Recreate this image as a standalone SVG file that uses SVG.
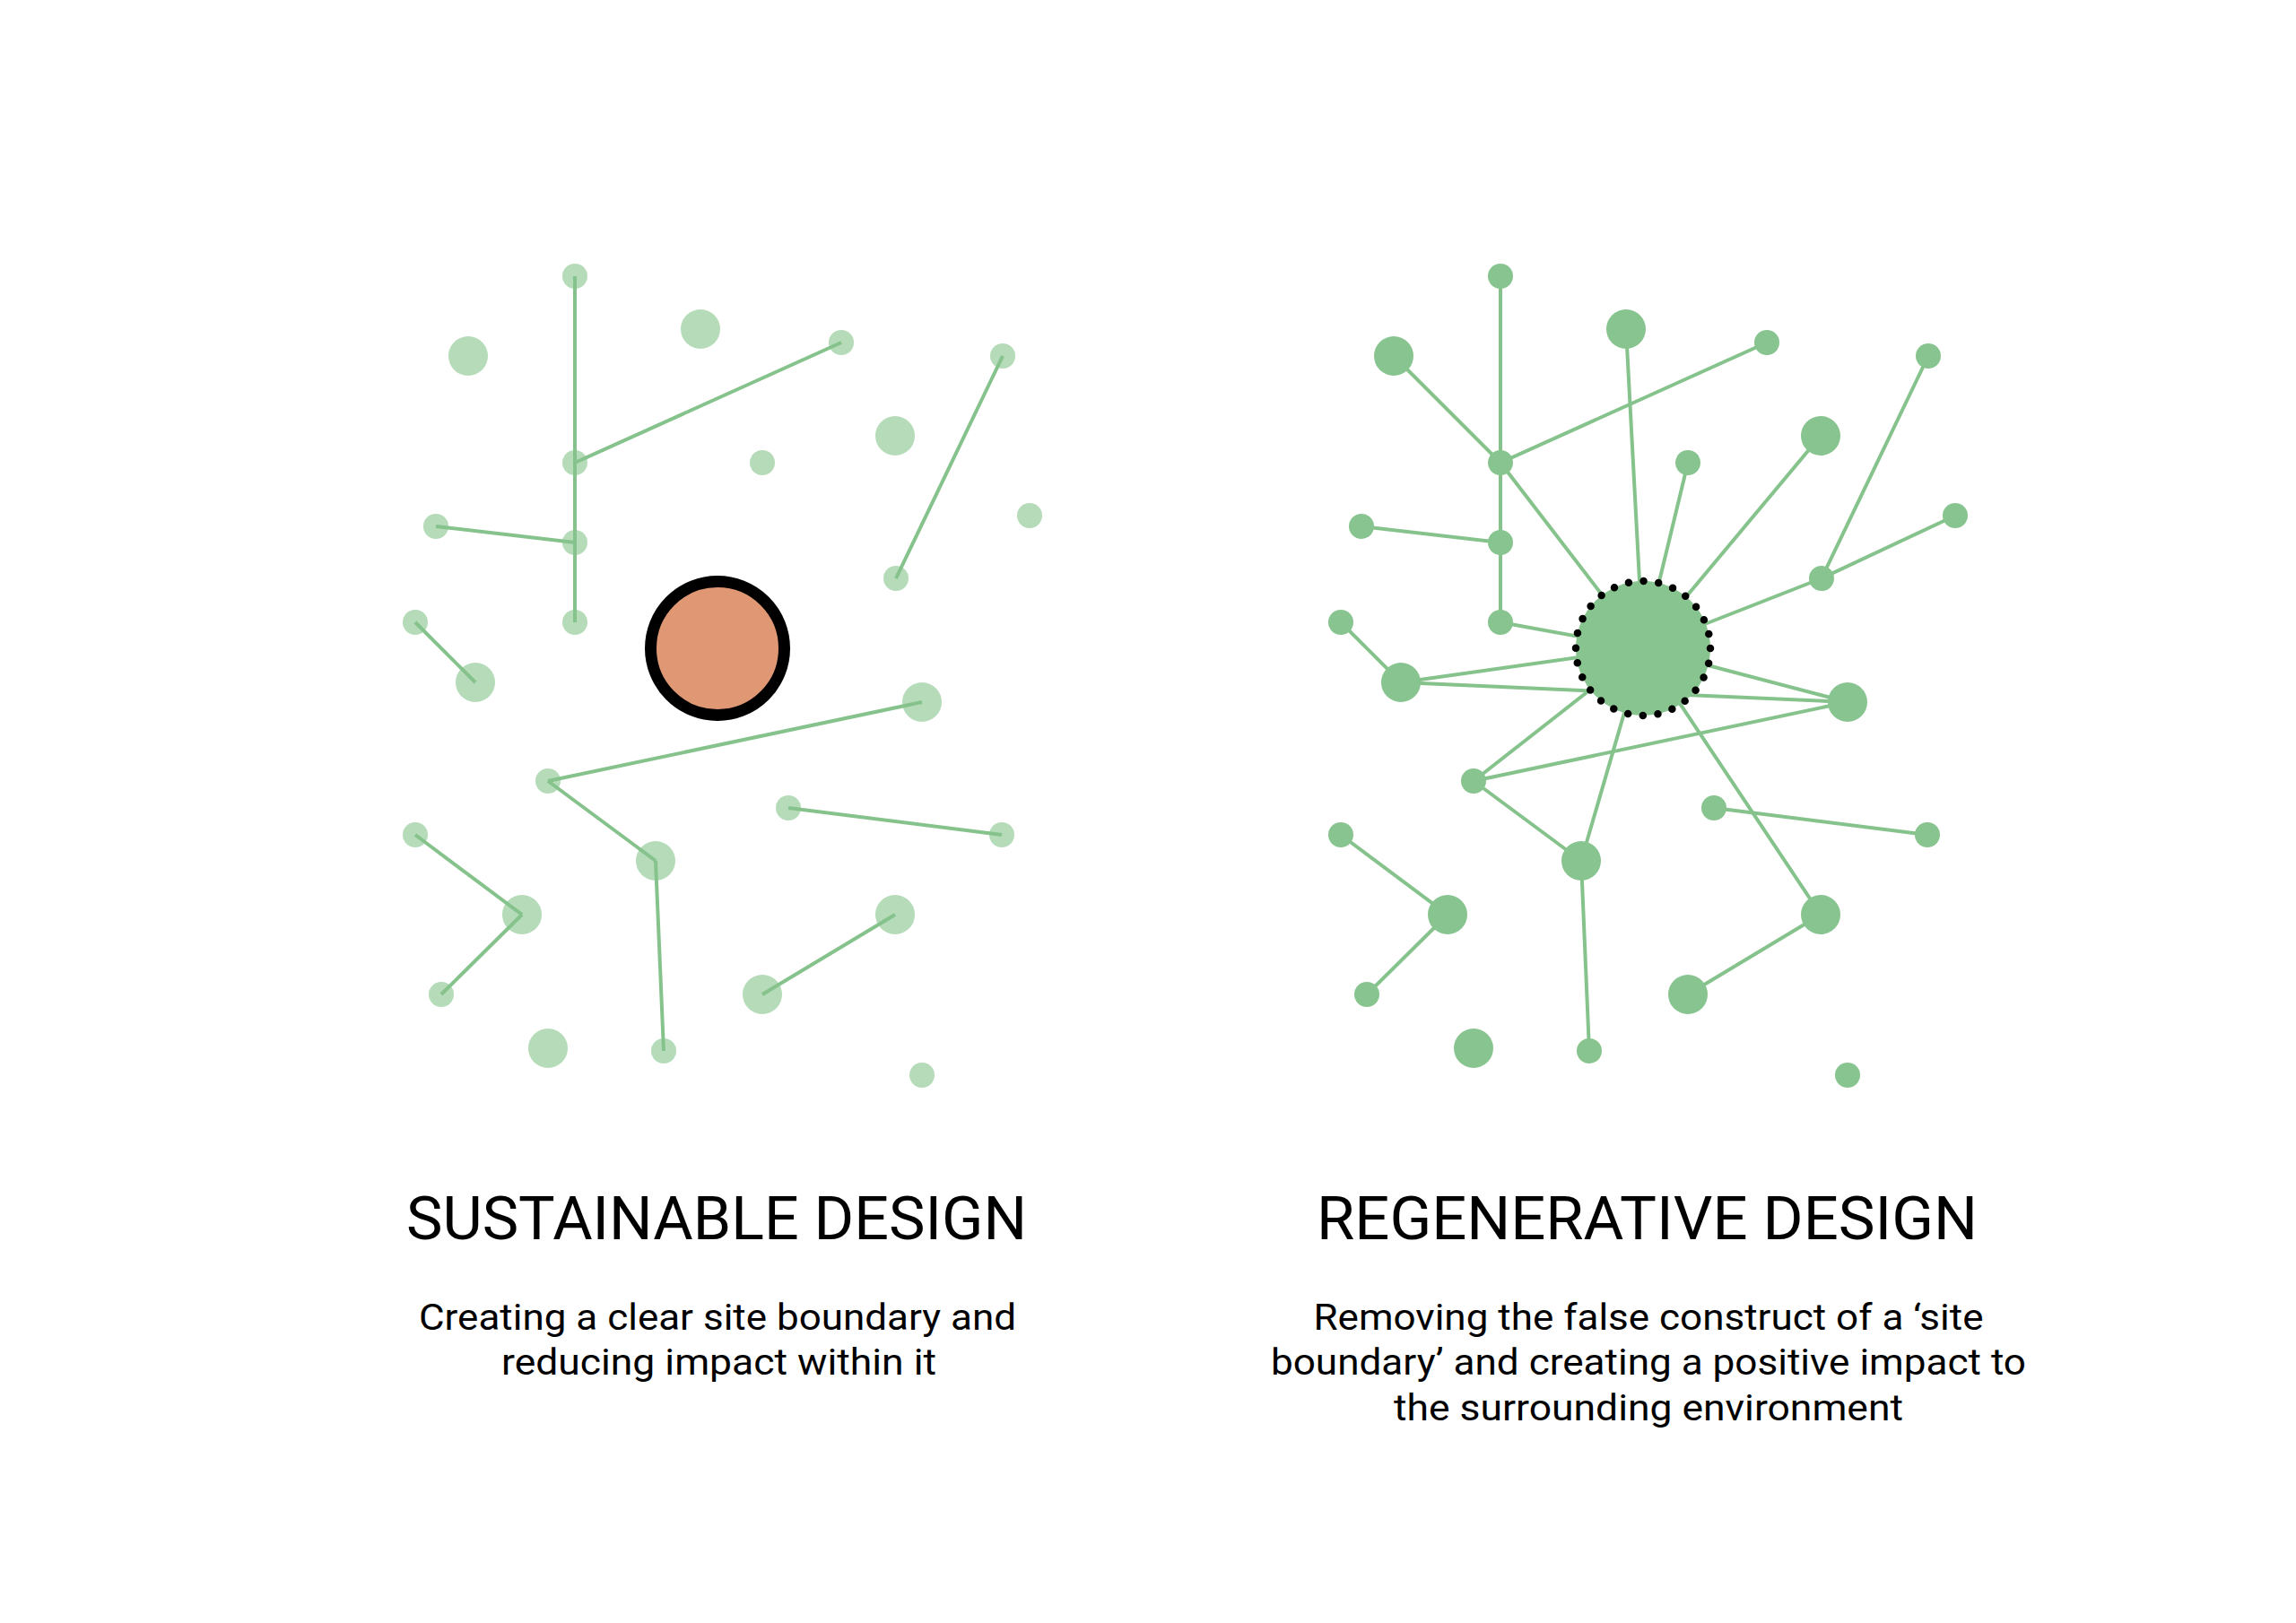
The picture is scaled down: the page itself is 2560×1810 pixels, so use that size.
<svg xmlns="http://www.w3.org/2000/svg" width="2560" height="1810" viewBox="0 0 2560 1810">
<style>
.lt{fill:#b5dbb9}
.dk{fill:#88c48f}
.edge{stroke:#86c38c;stroke-width:4;fill:none}
.title{font-family:Roboto,"Liberation Sans",Arial,sans-serif;font-size:67px;fill:#000;text-anchor:middle}
.body{font-family:Roboto,"Liberation Sans",Arial,sans-serif;font-size:41px;fill:#000;text-anchor:middle}
</style>
<rect width="2560" height="1810" fill="#fff"/>

<!-- LEFT PANEL: SUSTAINABLE DESIGN -->
<g id="left-nodes">
<circle id="l1" class="lt" cx="641" cy="308" r="14"/>
<circle id="l2" class="lt" cx="522" cy="397" r="22"/>
<circle id="l3" class="lt" cx="781" cy="367" r="22"/>
<circle id="l4" class="lt" cx="938" cy="382" r="14"/>
<circle id="l5" class="lt" cx="1118" cy="397" r="14"/>
<circle id="l6" class="lt" cx="641" cy="516" r="14"/>
<circle id="l7" class="lt" cx="850" cy="516" r="14"/>
<circle id="l8" class="lt" cx="998" cy="486" r="22"/>
<circle id="l9" class="lt" cx="486" cy="587" r="14"/>
<circle id="l10" class="lt" cx="641" cy="605" r="14"/>
<circle id="l11" class="lt" cx="1148" cy="575" r="14"/>
<circle id="l12" class="lt" cx="999" cy="645" r="14"/>
<circle id="l13" class="lt" cx="463" cy="694" r="14"/>
<circle id="l14" class="lt" cx="641" cy="694" r="14"/>
<circle id="l15" class="lt" cx="530" cy="761" r="22"/>
<circle id="l16" class="lt" cx="1028" cy="783" r="22"/>
<circle id="l17" class="lt" cx="611" cy="871" r="14"/>
<circle id="l18" class="lt" cx="879" cy="901" r="14"/>
<circle id="l19" class="lt" cx="1117" cy="931" r="14"/>
<circle id="l20" class="lt" cx="463" cy="931" r="14"/>
<circle id="l21" class="lt" cx="731" cy="960" r="22"/>
<circle id="l22" class="lt" cx="582" cy="1020" r="22"/>
<circle id="l23" class="lt" cx="998" cy="1020" r="22"/>
<circle id="l24" class="lt" cx="492" cy="1109" r="14"/>
<circle id="l25" class="lt" cx="850" cy="1109" r="22"/>
<circle id="l26" class="lt" cx="611" cy="1169" r="22"/>
<circle id="l27" class="lt" cx="740" cy="1172" r="14"/>
<circle id="l28" class="lt" cx="1028" cy="1199" r="14"/>
</g>
<g id="left-connectors" class="edge">
<line x1="641" y1="308" x2="641" y2="694"/>
<line x1="641" y1="516" x2="938" y2="382"/>
<line x1="486" y1="587" x2="641" y2="605"/>
<line x1="1118" y1="397" x2="999" y2="645"/>
<line x1="463" y1="694" x2="530" y2="761"/>
<line x1="611" y1="871" x2="1028" y2="783"/>
<line x1="611" y1="871" x2="731" y2="960"/>
<line x1="731" y1="960" x2="740" y2="1172"/>
<line x1="879" y1="901" x2="1117" y2="931"/>
<line x1="463" y1="931" x2="582" y2="1020"/>
<line x1="582" y1="1020" x2="492" y2="1109"/>
<line x1="998" y1="1020" x2="850" y2="1109"/>
</g>
<g id="site">
<circle cx="800" cy="723" r="74.5" fill="#e09874" stroke="#000" stroke-width="13"/>
</g>

<!-- RIGHT PANEL: REGENERATIVE DESIGN -->
<g id="right-connectors" class="edge">
<line x1="1673" y1="308" x2="1673" y2="694"/>
<line x1="1554" y1="397" x2="1673" y2="516"/>
<line x1="1673" y1="516" x2="1832" y2="723"/>
<line x1="1673" y1="516" x2="1970" y2="382"/>
<line x1="1518" y1="587" x2="1673" y2="605"/>
<line x1="1813" y1="367" x2="1832" y2="723"/>
<line x1="1882" y1="516" x2="1832" y2="723"/>
<line x1="2030" y1="486" x2="1832" y2="723"/>
<line x1="2150" y1="397" x2="2031" y2="645"/>
<line x1="2180" y1="575" x2="2031" y2="645"/>
<line x1="2031" y1="645" x2="1832" y2="723"/>
<line x1="1495" y1="694" x2="1562" y2="761"/>
<line x1="1673" y1="694" x2="1832" y2="723"/>
<line x1="1562" y1="761" x2="1832" y2="723"/>
<line x1="1562" y1="761" x2="2060" y2="783"/>
<line x1="2060" y1="783" x2="1832" y2="723"/>
<line x1="2060" y1="783" x2="1643" y2="871"/>
<line x1="1643" y1="871" x2="1832" y2="723"/>
<line x1="1643" y1="871" x2="1763" y2="960"/>
<line x1="1763" y1="960" x2="1832" y2="723"/>
<line x1="1763" y1="960" x2="1772" y2="1172"/>
<line x1="1911" y1="901" x2="2149" y2="931"/>
<line x1="1832" y1="723" x2="2030" y2="1020"/>
<line x1="2030" y1="1020" x2="1882" y2="1109"/>
<line x1="1495" y1="931" x2="1614" y2="1020"/>
<line x1="1614" y1="1020" x2="1524" y2="1109"/>
</g>
<g id="right-nodes">
<circle id="r1" class="dk" cx="1673" cy="308" r="14"/>
<circle id="r2" class="dk" cx="1554" cy="397" r="22"/>
<circle id="r3" class="dk" cx="1813" cy="367" r="22"/>
<circle id="r4" class="dk" cx="1970" cy="382" r="14"/>
<circle id="r5" class="dk" cx="2150" cy="397" r="14"/>
<circle id="r6" class="dk" cx="1673" cy="516" r="14"/>
<circle id="r7" class="dk" cx="1882" cy="516" r="14"/>
<circle id="r8" class="dk" cx="2030" cy="486" r="22"/>
<circle id="r9" class="dk" cx="1518" cy="587" r="14"/>
<circle id="r10" class="dk" cx="1673" cy="605" r="14"/>
<circle id="r11" class="dk" cx="2180" cy="575" r="14"/>
<circle id="r12" class="dk" cx="2031" cy="645" r="14"/>
<circle id="r13" class="dk" cx="1495" cy="694" r="14"/>
<circle id="r14" class="dk" cx="1673" cy="694" r="14"/>
<circle id="r15" class="dk" cx="1562" cy="761" r="22"/>
<circle id="r16" class="dk" cx="2060" cy="783" r="22"/>
<circle id="r17" class="dk" cx="1643" cy="871" r="14"/>
<circle id="r18" class="dk" cx="1911" cy="901" r="14"/>
<circle id="r19" class="dk" cx="2149" cy="931" r="14"/>
<circle id="r20" class="dk" cx="1495" cy="931" r="14"/>
<circle id="r21" class="dk" cx="1763" cy="960" r="22"/>
<circle id="r22" class="dk" cx="1614" cy="1020" r="22"/>
<circle id="r23" class="dk" cx="2030" cy="1020" r="22"/>
<circle id="r24" class="dk" cx="1524" cy="1109" r="14"/>
<circle id="r25" class="dk" cx="1882" cy="1109" r="22"/>
<circle id="r26" class="dk" cx="1643" cy="1169" r="22"/>
<circle id="r27" class="dk" cx="1772" cy="1172" r="14"/>
<circle id="r28" class="dk" cx="2060" cy="1199" r="14"/>
</g>
<g id="hub">
<circle class="dk" cx="1832" cy="723" r="75"/>
<circle cx="1832" cy="723" r="75" fill="none" stroke="#000" stroke-width="8.5" stroke-linecap="round" stroke-dasharray="0 16.8300"/>
</g>

<!-- TEXTS -->
<g id="left-text">
<text class="title" x="799" y="1382" textLength="692" lengthAdjust="spacingAndGlyphs">SUSTAINABLE DESIGN</text>
<text class="body" x="800" y="1483" textLength="666" lengthAdjust="spacingAndGlyphs">Creating a clear site boundary and</text>
<text class="body" x="801.5" y="1533" textLength="485" lengthAdjust="spacingAndGlyphs">reducing impact within it</text>
</g>
<g id="right-text">
<text class="title" x="1836.5" y="1382" textLength="737" lengthAdjust="spacingAndGlyphs">REGENERATIVE DESIGN</text>
<text class="body" x="1838" y="1483" textLength="747" lengthAdjust="spacingAndGlyphs">Removing the false construct of a ‘site</text>
<text class="body" x="1838" y="1533" textLength="842" lengthAdjust="spacingAndGlyphs">boundary’ and creating a positive impact to</text>
<text class="body" x="1838" y="1584" textLength="568" lengthAdjust="spacingAndGlyphs">the surrounding environment</text>
</g>
</svg>
